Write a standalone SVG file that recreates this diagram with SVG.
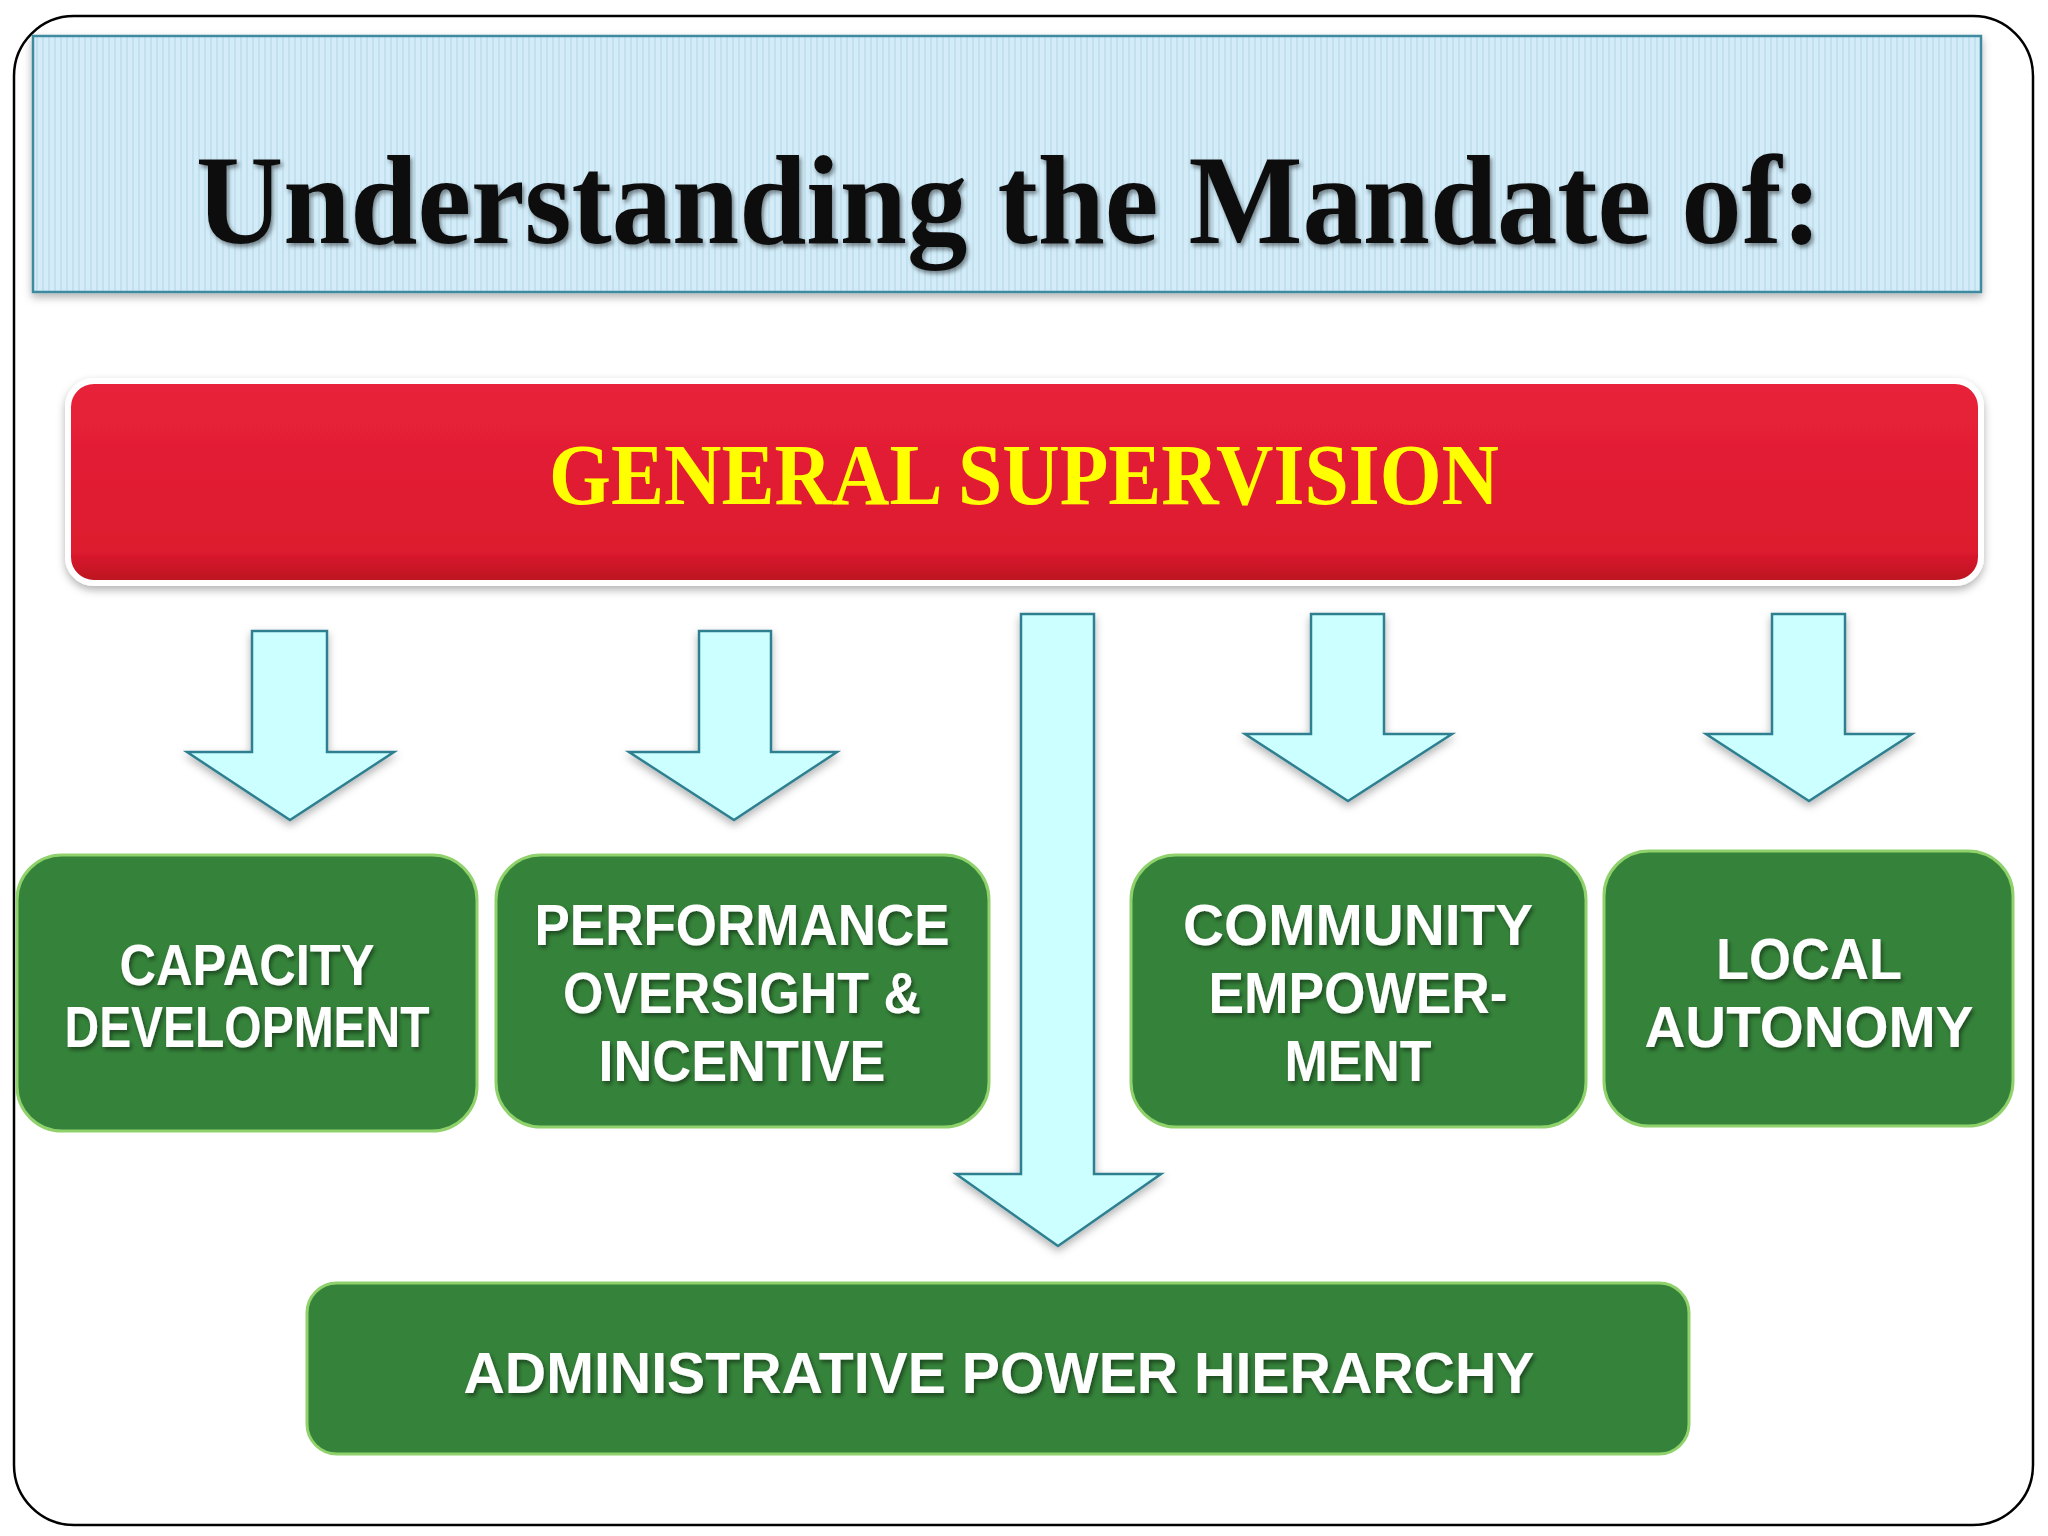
<svg xmlns="http://www.w3.org/2000/svg" width="2048" height="1536" viewBox="0 0 2048 1536">
<defs>
<pattern id="stripes" width="6" height="10" patternUnits="userSpaceOnUse">
<rect width="6" height="10" fill="#d3ecf8"/><rect width="2" height="10" fill="#c2e1f0"/>
</pattern>
<linearGradient id="red" x1="0" y1="0" x2="0" y2="1">
<stop offset="0" stop-color="#e8223a"/><stop offset="0.85" stop-color="#dc1a2e"/><stop offset="1" stop-color="#b8121f"/>
</linearGradient>
<filter id="sh" x="-5%" y="-5%" width="110%" height="120%"><feDropShadow dx="2" dy="3" stdDeviation="2" flood-color="#000" flood-opacity="0.45"/></filter>
<filter id="bsh" x="-5%" y="-5%" width="110%" height="120%"><feDropShadow dx="0" dy="4" stdDeviation="4" flood-color="#000" flood-opacity="0.3"/></filter>
<style>
.box{fill:#35833a;stroke:#8fd16a;stroke-width:3}
.lbl{font-family:"Liberation Sans",Arial,sans-serif;font-weight:bold;font-size:58px;fill:#fff;text-anchor:middle;filter:url(#sh)}
.arr{fill:#ccffff;stroke:#2f7f8f;stroke-width:2.5;stroke-linejoin:miter;filter:url(#bsh)}
</style>
</defs>
<rect width="2048" height="1536" fill="#fff"/>
<rect x="14" y="16" width="2019" height="1509" rx="60" fill="#fff" stroke="#000" stroke-width="2.5"/>
<g id="title">
<rect x="33" y="36" width="1948" height="256" fill="url(#stripes)" stroke="#3f8aa0" stroke-width="2.5" filter="url(#bsh)"/>
<text x="1009" y="243" font-family="'Liberation Serif','Times New Roman',serif" font-weight="bold" font-size="128" fill="#111" text-anchor="middle" textLength="1626" lengthAdjust="spacingAndGlyphs" filter="url(#sh)">Understanding the Mandate of:</text>
</g>
<g id="general">
<rect x="68" y="381" width="1913" height="202" rx="26" fill="url(#red)" stroke="#fff" stroke-width="6" filter="url(#bsh)"/>
<text x="1024" y="504" font-family="'Liberation Serif','Times New Roman',serif" font-weight="bold" font-size="86" fill="#ffff00" text-anchor="middle" textLength="950" lengthAdjust="spacingAndGlyphs">GENERAL SUPERVISION</text>
</g>
<g id="connectors">
<polygon class="arr" points="252,631 327,631 327,752 394,752 290,820 187,752 252,752"/>
<polygon class="arr" points="699,631 771,631 771,752 837,752 734,820 629,752 699,752"/>
<polygon class="arr" points="1021,614 1094,614 1094,1174 1161,1174 1058,1246 956,1174 1021,1174"/>
<polygon class="arr" points="1311,614 1384,614 1384,734 1452,734 1348,801 1245,734 1311,734"/>
<polygon class="arr" points="1772,614 1845,614 1845,734 1912,734 1809,801 1706,734 1772,734"/>
</g>
<g id="capacity">
<rect class="box" x="17" y="855" width="460" height="276" rx="45"/>
<text class="lbl" x="247" y="985" textLength="255" lengthAdjust="spacingAndGlyphs">CAPACITY</text>
<text class="lbl" x="247" y="1047" textLength="365" lengthAdjust="spacingAndGlyphs">DEVELOPMENT</text>
</g>
<g id="performance">
<rect class="box" x="496" y="855" width="493" height="272" rx="45"/>
<text class="lbl" x="742" y="945" textLength="415" lengthAdjust="spacingAndGlyphs">PERFORMANCE</text>
<text class="lbl" x="742" y="1013" textLength="358" lengthAdjust="spacingAndGlyphs">OVERSIGHT &amp;</text>
<text class="lbl" x="742" y="1081" textLength="287" lengthAdjust="spacingAndGlyphs">INCENTIVE</text>
</g>
<g id="community">
<rect class="box" x="1131" y="855" width="455" height="272" rx="45"/>
<text class="lbl" x="1358" y="945" textLength="350" lengthAdjust="spacingAndGlyphs">COMMUNITY</text>
<text class="lbl" x="1358" y="1013" textLength="299" lengthAdjust="spacingAndGlyphs">EMPOWER-</text>
<text class="lbl" x="1358" y="1081" textLength="147" lengthAdjust="spacingAndGlyphs">MENT</text>
</g>
<g id="local">
<rect class="box" x="1604" y="851" width="409" height="275" rx="45"/>
<text class="lbl" x="1809" y="979" textLength="186" lengthAdjust="spacingAndGlyphs">LOCAL</text>
<text class="lbl" x="1809" y="1047" textLength="329" lengthAdjust="spacingAndGlyphs">AUTONOMY</text>
</g>
<g id="admin">
<rect class="box" x="307" y="1283" width="1382" height="171" rx="30"/>
<text class="lbl" x="999" y="1393" textLength="1071" lengthAdjust="spacingAndGlyphs">ADMINISTRATIVE  POWER HIERARCHY</text>
</g>
</svg>
